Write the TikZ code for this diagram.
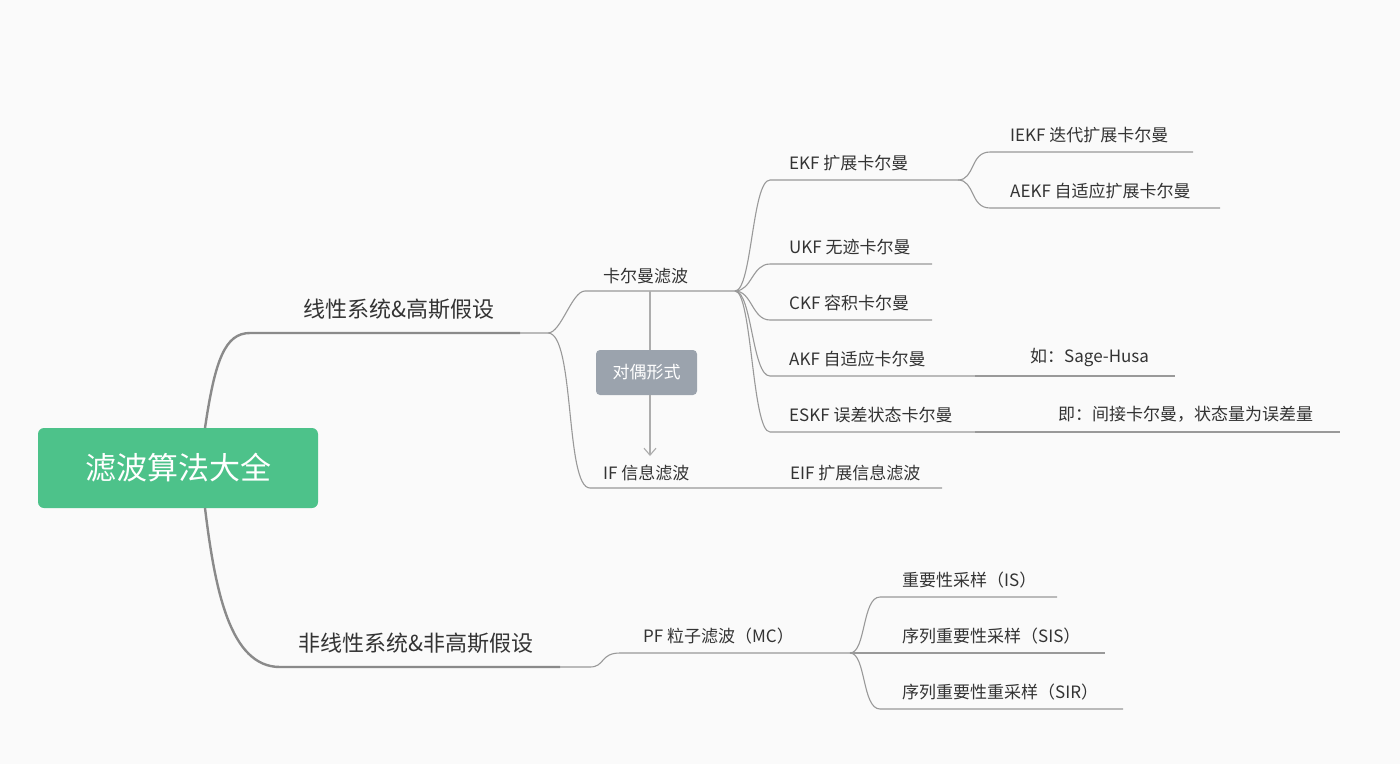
\documentclass[tikz,border=0pt]{standalone}
\usetikzlibrary{arrows.meta}
\usepackage{fontspec}
\setmainfont{Noto Sans CJK SC}
\definecolor{bg}{HTML}{FAFAFA}
\definecolor{rootc}{HTML}{4DC28A}
\definecolor{dual}{HTML}{9BA3AD}
\definecolor{ln}{HTML}{999999}
\definecolor{tx}{HTML}{333333}
\tikzset{
 lbl/.style={anchor=south west,inner sep=0pt,text=tx,font=\fontsize{17}{17}\selectfont},
 big/.style={anchor=south west,inner sep=0pt,text=tx,font=\fontsize{22}{22}\selectfont},
 thin/.style={draw=ln,line width=1.1pt},
 thick/.style={draw=ln!90!black,line width=2.4pt},
 curve/.style={out=0,in=180,looseness=0.8}
}
\begin{document}
\begin{tikzpicture}[x=1pt,y=-1pt]
\fill[bg] (0,0) rectangle (1400,764);
\useasboundingbox (0,0) rectangle (1400,764);
% root
\node[fill=rootc,rounded corners=6pt,minimum width=280pt,minimum height=80pt,text=white,font=\fontsize{31}{31}\selectfont] (root) at (178,468) {滤波算法大全};
% level 1
\coordinate (r1) at (205,428); \coordinate (r2) at (205,508);
\coordinate (l1a) at (250,333); \coordinate (l1b) at (520,333);
\coordinate (l2a) at (280,667); \coordinate (l2b) at (560,667);
\draw[thick] (r1) .. controls (215,360) and (225,333) .. (l1a) -- (l1b);
\draw[thick] (r2) .. controls (215,590) and (230,667) .. (l2a) -- (l2b);
\node[big] (t1) at (303,320) {线性系统\&高斯假设};
\node[big] (t2) at (298,654) {非线性系统\&非高斯假设};
% kalman / IF
\coordinate (k0) at (548,333);
\coordinate (ka) at (585,291); \coordinate (kb) at (705,291); \coordinate (kc) at (735,291);
\coordinate (ia) at (590,488); \coordinate (ib) at (942,488);
\draw[thin] (l1b) -- (k0) to[out=0,in=180,looseness=0.6] (ka) -- (kb) -- (kc);
\draw[thin] (k0) .. controls (575,333) and (565,488) .. (ia) -- (ib);
\node[lbl] (kf) at (603,284) {卡尔曼滤波};
\node[lbl] (if) at (603,481) {IF 信息滤波};
\node[lbl] (eif) at (790,481) {EIF 扩展信息滤波};
% dual
\node[fill=dual,rounded corners=4pt,minimum width=101pt,minimum height=45pt,text=white,font=\fontsize{17}{17}\selectfont] (du) at (646.5,372.5) {对偶形式};
\coordinate (dtop) at (650,291); \coordinate (dend) at (650,456);
\draw[thin,draw=ln!80] (dtop) -- (du.north-|dtop);
\draw[thin,draw=ln!80,-{Straight Barb[length=7pt,width=12pt]}] (du.south-|dtop) -- (dend);
% kalman children
\foreach \y/\e/\n in {180/930/ekf,264/932/ukf,320/932/ckf,376/975/akf,432/975/eskf}{
  \coordinate (\n a) at (770,\y); \coordinate (\n b) at (\e,\y);
  \draw[thin] (kc) .. controls (752,291) and (752,\y) .. (\n a) -- (\n b);
}
\node[lbl] (tekf) at (789,171) {EKF 扩展卡尔曼};
\node[lbl] (tukf) at (789,255) {UKF 无迹卡尔曼};
\node[lbl] (tckf) at (789,311) {CKF 容积卡尔曼};
\node[lbl] (takf) at (789,367) {AKF 自适应卡尔曼};
\node[lbl] (teskf) at (789,423) {ESKF 误差状态卡尔曼};
\coordinate (akfc) at (1175,376); \coordinate (eskfc) at (1340,432);
\draw[thin] (akfb) -- (akfc); \draw[thin] (eskfb) -- (eskfc);
\node[lbl] (sh) at (1030,367) {如：Sage-Husa};
\node[lbl] (jj) at (1058,423) {即：间接卡尔曼，状态量为误差量};
% EKF children
\coordinate (ekfc) at (958,180);
\coordinate (ieA) at (990,152); \coordinate (ieB) at (1193,152);
\coordinate (aeA) at (990,208); \coordinate (aeB) at (1220,208);
\draw[thin] (ekfb) -- (ekfc) .. controls (975,180) and (970,152) .. (ieA) -- (ieB);
\draw[thin] (ekfc) .. controls (975,180) and (970,208) .. (aeA) -- (aeB);
\node[lbl] (tie) at (1010,143) {IEKF 迭代扩展卡尔曼};
\node[lbl] (tae) at (1010,199) {AEKF 自适应扩展卡尔曼};
% PF
\coordinate (p0) at (590,667); \coordinate (pa) at (620,653); \coordinate (pb) at (820,653); \coordinate (pc) at (850,653);
\draw[thin] (l2b) -- (p0) .. controls (605,667) and (600,653) .. (pa) -- (pb) -- (pc);
\node[lbl] (tpf) at (643,644) {PF 粒子滤波（MC）};
\foreach \y/\e/\n in {597/1057/is,653/1105/sis,709/1123/sir}{
  \coordinate (\n a) at (880,\y); \coordinate (\n b) at (\e,\y);
  \draw[thin] (pc) .. controls (866,653) and (862,\y) .. (\n a) -- (\n b);
}
\node[lbl] (tis) at (902,588) {重要性采样（IS）};
\node[lbl] (tsis) at (902,644) {序列重要性采样（SIS）};
\node[lbl] (tsir) at (902,700) {序列重要性重采样（SIR）};
\end{tikzpicture}
\end{document}
